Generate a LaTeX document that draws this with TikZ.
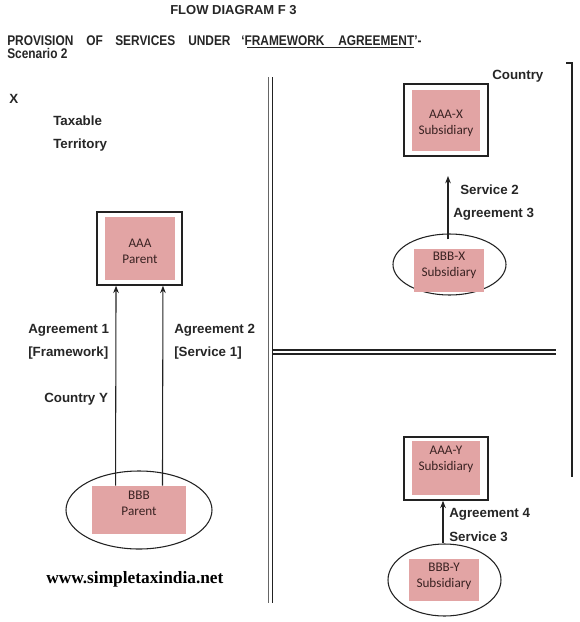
\documentclass[tikz,border=0pt]{standalone}
\usepackage{fontspec}
\setmainfont{Liberation Sans}
\newfontfamily\boxfont{Carlito}
\newfontfamily\webfont{Liberation Serif}
\usetikzlibrary{arrows.meta,shapes.geometric,calc}
\definecolor{pinkfill}{HTML}{E2A4A4}
\definecolor{boxtext}{HTML}{3A2222}
\definecolor{linegray}{HTML}{222222}
\begin{document}
\begin{tikzpicture}[x=0.75pt,y=-0.75pt,
  lbl/.style={font=\fontsize{10}{12}\selectfont\bfseries, text=black!85, inner sep=0, anchor=base west},
  head/.style={font=\fontsize{10.5}{12}\selectfont\bfseries, text=black!85, inner sep=0, anchor=base west},
  pinkbox/.style={fill=pinkfill, draw=none, inner sep=0},
  boxtxt/.style={font=\boxfont\fontsize{9.9}{12}\selectfont, text=boxtext, align=center, inner sep=0},
  outerbox/.style={draw=linegray, line width=1.1pt, inner sep=0, fill=white},
  oval/.style={draw=linegray, ellipse, line width=0.8pt, inner sep=0},
  arr/.style={-{Stealth[length=5.5pt,width=4.2pt]}, line width=0.8pt, draw=linegray},
  sep/.style={draw=linegray, line width=0.8pt},
]
\useasboundingbox[fill=white] (0,0) rectangle (580,622);

% titles
\node[inner sep=0, anchor=base west, font=\fontsize{9.75}{12}\selectfont\bfseries, text=black!85] (title) at (170,14) {FLOW DIAGRAM F 3};
\node[head] (w1) at (7,45) {\scalebox{0.85}[1]{PROVISION}};
\node[head] (w2) at (86,45) {\scalebox{0.85}[1]{OF}};
\node[head] (w3) at (115,45) {\scalebox{0.85}[1]{SERVICES}};
\node[head] (w4) at (188,45) {\scalebox{0.85}[1]{UNDER}};
\node[head] (w5) at (241,45) {\scalebox{0.85}[1]{`FRAMEWORK}};
\node[head] (w6) at (338,45) {\scalebox{0.85}[1]{AGREEMENT'-}};
\coordinate (ul1) at (247,47.5);
\coordinate (ul2) at (414,47.5);
\draw[line width=0.8pt, black!85] (ul1) -- (ul2);
\node[head] (scen) at (7,58) {\scalebox{0.85}[1]{Scenario 2}};

% separators
\coordinate (v1t) at (268.3,77); \coordinate (v1b) at (268.3,603);
\coordinate (v2t) at (272.7,77); \coordinate (v2b) at (272.7,603);
\draw[sep, draw=black!60] (v1t) -- (v1b);
\draw[sep] (v2t) -- (v2b);
\coordinate (h1l) at (273,350); \coordinate (h1r) at (556,350);
\coordinate (h2l) at (273,354); \coordinate (h2r) at (556,354);
\draw[sep] (h1l) -- (h1r);
\draw[sep] (h2l) -- (h2r);
\coordinate (bt) at (566,63); \coordinate (bc) at (572,63); \coordinate (bb) at (572,477);
\draw[sep] (bt) -- (bc) -- (bb);

% left labels
\node[lbl] (lx) at (9,103) {X};
\node[lbl] (ltax) at (53,125) {Taxable};
\node[lbl] (lter) at (53,148.5) {Territory};
\node[lbl] (lctry) at (492,79) {Country};

% AAA parent
\node[outerbox, minimum width=63.75pt, minimum height=54.75pt] (aaaout) at (139.5,248.5) {};
\node[pinkbox, minimum width=52.5pt, minimum height=47.25pt] (aaap) at (140,248.5) {};
\node[boxtxt] (aaat) at (140,251) {AAA\\Parent};

% BBB parent
\node[oval, minimum width=109.5pt, minimum height=58.5pt] (bbbell) at (139,510) {};
\node[pinkbox, minimum width=70.5pt, minimum height=36pt] (bbbp) at (139,510) {};
\node[boxtxt] (bbbt) at (139,503) {BBB\\Parent};

\draw[arr] ([xshift=-17.6pt]bbbp.north) -- ([xshift=-17.6pt]aaaout.south);
\draw[arr] ([xshift=17.6pt]bbbp.north) -- ([xshift=17.6pt]aaaout.south);

\node[lbl] (la1) at (28,333) {Agreement 1};
\node[lbl] (lfw) at (28,356) {[Framework]};
\node[lbl] (la2) at (174,333) {Agreement 2};
\node[lbl] (ls1) at (174,356) {[Service 1]};
\node[lbl] (lcy) at (44,402) {Country Y};

% AAA-X
\node[outerbox, minimum width=63pt, minimum height=54pt] (aaaxout) at (446,120) {};
\node[pinkbox, minimum width=51pt, minimum height=45.75pt] (aaaxp) at (446,120.5) {};
\node[boxtxt] (aaaxt) at (446,123.5) {AAA-X\\Subsidiary};

% BBB-X
\node[oval, minimum width=84.75pt, minimum height=45.75pt] (bbbxell) at (449.5,264.5) {};
\node[pinkbox, minimum width=52.5pt, minimum height=32.25pt] (bbbxp) at (449,270.5) {};
\node[boxtxt] (bbbxt) at (449,265.5) {BBB-X\\Subsidiary};
\coordinate (s2tip) at (448,176);
\draw[arr] ($(bbbxell.north -| s2tip)+(0,6)$) -- (s2tip);
\node[lbl] (ls2) at (460,194) {Service 2};
\node[lbl] (la3) at (453,217) {Agreement 3};

% AAA-Y
\node[outerbox, minimum width=63pt, minimum height=47.25pt] (aaayout) at (446,468.5) {};
\node[pinkbox, minimum width=51pt, minimum height=40.5pt] (aaayp) at (446,468) {};
\node[boxtxt] (aaayt) at (446,459) {AAA-Y\\Subsidiary};

% BBB-Y
\node[oval, minimum width=84.75pt, minimum height=54pt] (bbbyell) at (444.5,580) {};
\node[pinkbox, minimum width=52.5pt, minimum height=31.5pt] (bbbyp) at (444,580) {};
\node[boxtxt] (bbbyt) at (444,576) {BBB-Y\\Subsidiary};
\coordinate (a4x) at (443,0);
\draw[arr] (bbbyell.north -| a4x) -- (aaayout.south -| a4x);
\node[lbl] (la4) at (449,517.5) {Agreement 4};
\node[lbl] (ls3) at (449,541) {Service 3};

% website
\node[inner sep=0, anchor=base west, font=\webfont\fontsize{13}{15}\selectfont\bfseries] (web) at (46,583) {www.simpletaxindia.net};
\end{tikzpicture}
\end{document}
